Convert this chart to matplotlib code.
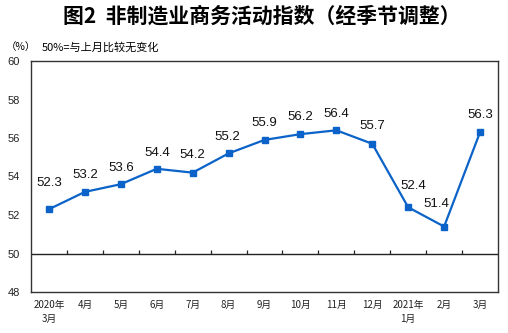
import matplotlib
import matplotlib.pyplot as plt
import numpy as np

matplotlib.use('Agg')

plt.rcParams['font.family'] = ['Liberation Sans', 'Noto Sans CJK SC', 'DejaVu Sans']

months = ['2020年\n3月', '4月', '5月', '6月', '7月', '8月', '9月', '10月',
          '11月', '12月', '2021年\n1月', '2月', '3月']
values = [52.3, 53.2, 53.6, 54.4, 54.2, 55.2, 55.9, 56.2, 56.4, 55.7, 52.4, 51.4, 56.3]
# label offsets in pixels (dx, dy) relative to each point
offsets = [(0, -26), (0, -17), (0, -16), (1, -16), (0, -18), (-1, -16), (0, -17),
           (0, -17), (0, -16), (0, -18), (5, -21), (-8, -23), (0, -17)]
y_ticks = [48, 50, 52, 54, 56, 58, 60]

cjk = ['Noto Sans CJK SC', 'DejaVu Sans']
line_color = '#0b63c9'

fig = plt.figure(figsize=(5.08, 3.33), dpi=100)
ax = fig.add_axes([31 / 508, 1 - 292 / 333, 467 / 508, 231 / 333])

x = np.arange(len(values))
ax.plot(x, values, '-s', color=line_color, lw=1.6, ms=4.5, zorder=3)

for xi, v, (dx, dy) in zip(x, values, offsets):
    ax.annotate(f'{v:.1f}', (xi, v), xytext=(dx, -dy), textcoords='offset pixels',
                ha='center', va='center', fontsize=9.5, color='#111111')

# 50% reference line with small ticks between months
ax.axhline(50, color='#222222', lw=1.0, zorder=2)
ax.vlines(x[:-1] + 0.5, 50, 50.17, color='#222222', lw=0.9)

ax.set_xlim(-0.5, len(values) - 0.5)
ax.set_ylim(48, 60)
ax.set_yticks(y_ticks)
ax.set_yticklabels([str(t) for t in y_ticks], fontsize=8, color='#222222')
ax.set_xticks(x)
ax.set_xticklabels(months, fontsize=7, family=cjk, linespacing=1.5, color='#222222')
ax.tick_params(axis='both', length=0)
ax.tick_params(axis='x', pad=6)
ax.tick_params(axis='y', pad=8)
for s in ax.spines.values():
    s.set_color('#333333')
    s.set_linewidth(1.0)

fig.text(0.515, 0.952, '图2  非制造业商务活动指数（经季节调整）', ha='center', va='center',
         fontsize=15, fontweight='bold', family=cjk)
fig.text(6 / 508, 1 - 47 / 333, '（%）', ha='left', va='center', fontsize=7.5, family=cjk)
fig.text(42 / 508, 1 - 47 / 333, '50%=与上月比较无变化', ha='left', va='center',
         fontsize=8, family=cjk)

fig.savefig('out.png', dpi=100)
